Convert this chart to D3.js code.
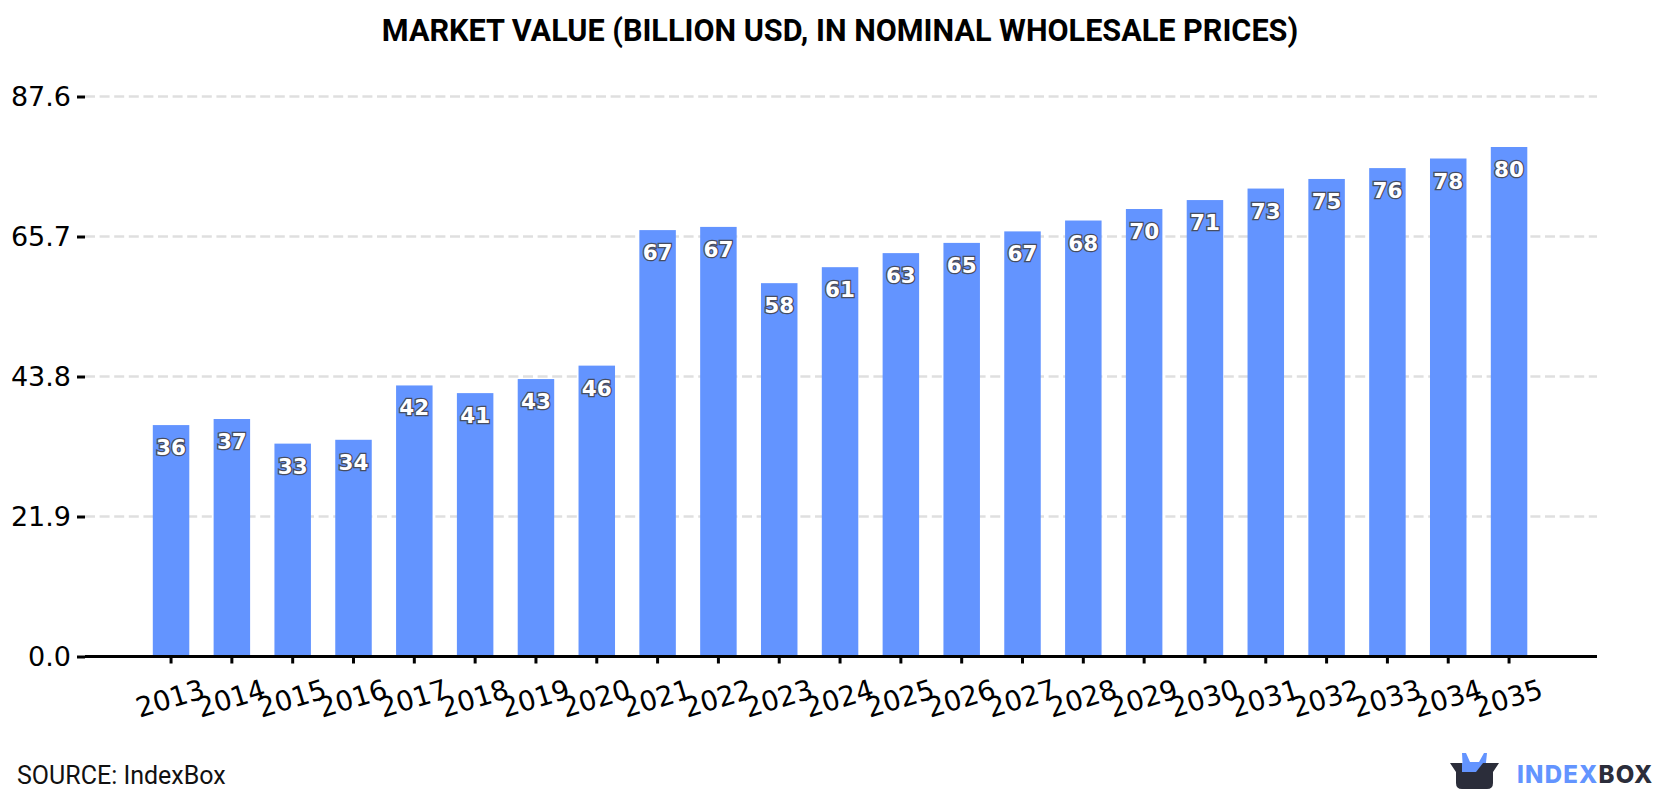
<!DOCTYPE html>
<html>
<head>
<meta charset="utf-8">
<script src="https://cdn.jsdelivr.net/npm/d3@7"></script>
<style>
  html, body { margin: 0; padding: 0; background: #fff; }
  svg { display: block; }
</style>
</head>
<body>
<svg id="chart" width="1680" height="800"></svg>
<script>
// Market value by year, billion USD
const years = [2013, 2014, 2015, 2016, 2017, 2018, 2019, 2020, 2021, 2022, 2023, 2024,
               2025, 2026, 2027, 2028, 2029, 2030, 2031, 2032, 2033, 2034, 2035];
const marketValues = [36.2, 37.15, 33.3, 33.9, 42.4, 41.2, 43.4, 45.5, 66.7, 67.2, 58.4, 60.9,
                      63.1, 64.7, 66.5, 68.2, 70.0, 71.4, 73.2, 74.7, 76.4, 77.9, 79.7];
const yTickValues = [0, 21.9, 43.8, 65.7, 87.6];

const chartTitle = "MARKET VALUE (BILLION USD, IN NOMINAL WHOLESALE PRICES)";
const sourceText = "SOURCE: IndexBox";

const margin = { left: 85, right: 1597, top: 96.5, bottom: 656.5 };
const svg = d3.select("#chart");

const x = d3.scaleBand()
  .domain(years)
  .range([85.9, 1594.2])
  .paddingInner(0.4)
  .paddingOuter(1.1);

const y = d3.scaleLinear()
  .domain([0, 87.6])
  .range([margin.bottom, margin.top]);

// Horizontal dashed grid
svg.append("g").selectAll("line")
  .data(yTickValues.filter(d => d > 0))
  .join("line")
  .attr("x1", margin.left)
  .attr("x2", margin.right)
  .attr("y1", d => y(d))
  .attr("y2", d => y(d))
  .attr("stroke", "#dfdfdf")
  .attr("stroke-width", 2.5)
  .attr("stroke-dasharray", "10 4.6");

// Bars
svg.append("g").selectAll("rect")
  .data(years.map((year, i) => ({ year, value: marketValues[i] })))
  .join("rect")
  .attr("x", d => x(d.year))
  .attr("width", x.bandwidth())
  .attr("y", d => y(d.value))
  .attr("height", d => y(0) - y(d.value))
  .attr("fill", "#6394ff");

// Value labels inside the top of each bar
svg.append("g").selectAll("text")
  .data(years.map((year, i) => ({ year, value: marketValues[i] })))
  .join("text")
  .attr("x", d => x(d.year) + x.bandwidth() / 2)
  .attr("y", d => y(d.value) + 30)
  .attr("text-anchor", "middle")
  .attr("font-family", "DejaVu Sans")
  .attr("font-weight", "bold")
  .attr("font-size", 21.5)
  .attr("fill", "#fff")
  .attr("stroke", "#474d60")
  .attr("stroke-width", 2.6)
  .attr("paint-order", "stroke")
  .text(d => d3.format(".0f")(d.value));

// Y axis: labels and short ticks only
const yAxis = svg.append("g")
  .attr("transform", `translate(${margin.left},0)`)
  .call(d3.axisLeft(y).tickValues(yTickValues).tickSize(8).tickPadding(6).tickFormat(d3.format(".1f")));
yAxis.select(".domain").remove();
yAxis.selectAll("line").attr("stroke", "#000").attr("stroke-width", 3);
yAxis.selectAll("text")
  .attr("font-family", "DejaVu Sans")
  .attr("font-size", 27)
  .attr("fill", "#000");

// X axis with slanted year labels
const xAxis = svg.append("g")
  .attr("transform", `translate(0,${margin.bottom})`)
  .call(d3.axisBottom(x).tickSize(7).tickSizeOuter(0));
xAxis.select(".domain").remove();
xAxis.append("line")
  .attr("x1", margin.left)
  .attr("x2", margin.right)
  .attr("stroke", "#000")
  .attr("stroke-width", 3);
xAxis.selectAll(".tick line").attr("stroke", "#000").attr("stroke-width", 3);
xAxis.selectAll("text")
  .attr("font-family", "DejaVu Sans")
  .attr("font-size", 27.5)
  .attr("fill", "#000")
  .attr("text-anchor", "middle")
  .attr("dy", null)
  .attr("y", 0)
  .attr("transform", "translate(2,51) rotate(-17)");

// Title
svg.append("text")
  .attr("x", 840)
  .attr("y", 41)
  .attr("text-anchor", "middle")
  .attr("font-family", "Roboto")
  .attr("font-weight", "bold")
  .attr("font-size", 30.6)
  .attr("fill", "#000")
  .text(chartTitle);

// Source line
svg.append("text")
  .attr("x", 17)
  .attr("y", 784)
  .attr("font-family", "Roboto")
  .attr("font-size", 25)
  .attr("fill", "#111")
  .text(sourceText);

// Brand mark: open box with a blue crown, followed by the wordmark
const logo = svg.append("g").attr("transform", "translate(1420,720)");
logo.append("path")
  .attr("d", "M42 33 L46 33 L50 42 L59 42 L64 33 L67 33 L65 52 L43 52 Z")
  .attr("fill", "#6394ff");
logo.append("path")
  .attr("d", "M30 43 L79 43 L73 52 L73 63 Q73 69 67 69 L42 69 Q36 69 36 63 L36 52 Z")
  .attr("fill", "#2b2d3a");
logo.append("path")
  .attr("d", "M42 52 L56 52 L63 43 L42 43 Z")
  .attr("fill", "#6394ff");
const wordmark = svg.append("text")
  .attr("x", 1517)
  .attr("y", 783)
  .attr("font-family", "Inter")
  .attr("font-weight", "800")
  .attr("font-size", 24)
  .attr("letter-spacing", 1.2);
wordmark.append("tspan").attr("fill", "#6394ff").text("INDEX");
wordmark.append("tspan").attr("fill", "#2b2d3a").text("BOX");
</script>
</body>
</html>
